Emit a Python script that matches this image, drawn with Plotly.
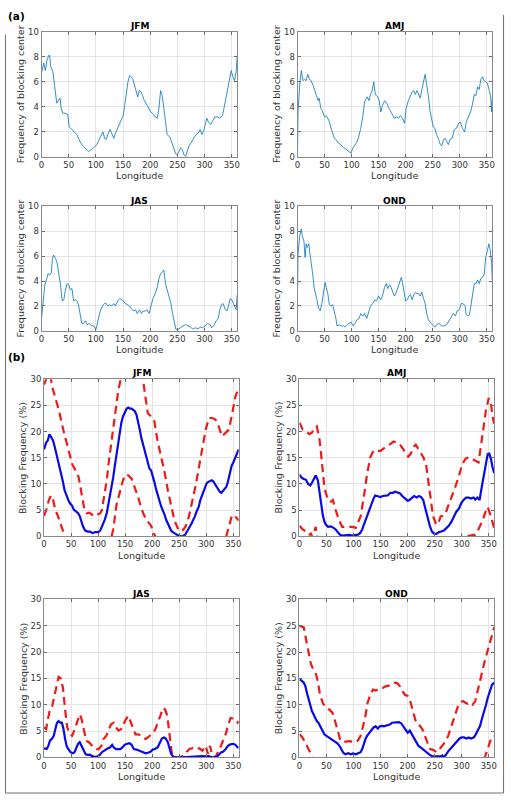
import plotly.graph_objects as go

W, H = 511, 800

# ---- (a) frequency of blocking center, (lon, value) ----
JFM_A = [(0, 6.7), (4, 7.5), (7, 6.9), (10, 7.7), (13, 8.1), (15, 8.1), (17, 7.2), (21, 6.8), (24, 5.7),
         (26, 4.9), (28, 4.3), (31, 4.5), (34, 4.7), (36, 3.9), (39, 3.5), (43, 3.5), (48, 3.4), (51, 2.4),
         (56, 2.2), (62, 1.9), (65, 1.8), (68, 1.5), (71, 1.2), (77, 0.85), (83, 0.6), (86, 0.45), (92, 0.6),
         (98, 0.85), (102, 1.0), (106, 1.4), (110, 1.8), (113, 2.0), (116, 1.5), (119, 1.4), (122, 1.8),
         (126, 2.2), (130, 1.8), (133, 1.5), (136, 1.9), (140, 2.3), (145, 2.7), (150, 3.3), (153, 4.1),
         (156, 5.2), (159, 6.0), (162, 6.5), (165, 6.4), (168, 6.2), (171, 5.7), (174, 5.3), (177, 4.8),
         (180, 5.3), (183, 5.2), (186, 4.9), (189, 4.5), (192, 4.3), (197, 3.9), (201, 3.6), (204, 3.5),
         (209, 3.2), (213, 3.1), (216, 3.9), (219, 5.3), (222, 4.9), (225, 3.9), (228, 2.6), (231, 1.8),
         (236, 1.6), (239, 1.2), (244, 0.6), (247, 0.25), (250, 0.2), (253, 0.45), (256, 0.75), (259, 0.6),
         (262, 0.2), (265, 0.05), (268, 0.45), (271, 0.85), (276, 1.2), (280, 1.5), (284, 1.8), (288, 1.9),
         (292, 2.2), (295, 1.8), (299, 2.2), (304, 3.1), (307, 2.8), (311, 2.6), (315, 2.9), (319, 3.2),
         (324, 3.2), (328, 3.1), (333, 3.3), (336, 4.0), (339, 4.7), (343, 5.6), (346, 6.4), (349, 6.9),
         (352, 6.4), (355, 6.1), (358, 6.8), (360, 8.1)]

AMJ_A = [(0, 0.2), (1, 3.6), (4, 5.7), (7, 6.9), (10, 6.1), (13, 6.2), (16, 6.1), (19, 6.6), (22, 6.2),
         (25, 6.1), (29, 5.7), (32, 5.2), (35, 4.9), (38, 4.5), (40, 4.7), (43, 3.9), (46, 3.7), (50, 3.2),
         (53, 3.3), (56, 3.1), (59, 2.8), (62, 2.3), (65, 1.8), (68, 1.5), (71, 1.4), (76, 1.1), (80, 1.0),
         (85, 0.75), (89, 0.65), (93, 0.5), (96, 0.4), (99, 0.3), (102, 0.7), (106, 1.0), (110, 1.2),
         (113, 1.6), (117, 2.3), (121, 3.3), (124, 4.4), (129, 4.8), (132, 4.5), (135, 5.0), (138, 5.3),
         (141, 6.0), (144, 5.0), (148, 4.8), (151, 4.5), (154, 3.6), (157, 4.1), (161, 4.5), (165, 4.3),
         (168, 4.0), (172, 3.7), (176, 3.3), (179, 3.1), (183, 3.2), (187, 3.1), (190, 3.3), (194, 3.1),
         (198, 2.7), (201, 3.9), (205, 4.5), (209, 4.9), (212, 5.2), (215, 5.3), (218, 5.0), (221, 5.3),
         (224, 5.0), (227, 4.7), (230, 5.4), (233, 6.0), (236, 6.6), (239, 5.7), (242, 4.9), (245, 3.7),
         (248, 3.1), (251, 2.4), (254, 2.3), (257, 1.8), (261, 1.4), (264, 1.0), (267, 0.9), (270, 1.4),
         (273, 1.5), (276, 1.2), (279, 1.0), (282, 1.4), (286, 1.5), (290, 2.2), (294, 2.3), (298, 2.7),
         (301, 2.8), (305, 2.3), (309, 2.0), (312, 2.8), (316, 3.2), (320, 3.6), (323, 4.1), (327, 5.0),
         (330, 4.9), (333, 5.6), (336, 5.4), (339, 6.2), (342, 6.4), (345, 6.1), (348, 6.0), (351, 5.9),
         (354, 5.4), (357, 4.9), (359, 3.6), (360, 4.7)]

JAS_A = [(0, 1.0), (3, 2.2), (6, 3.7), (9, 4.1), (12, 4.6), (15, 4.5), (18, 4.7), (20, 5.8), (22, 6.1),
         (26, 5.8), (29, 5.4), (32, 4.5), (35, 3.7), (38, 2.4), (41, 2.5), (44, 3.3), (47, 3.8), (50, 3.7),
         (53, 3.3), (56, 3.4), (59, 2.4), (62, 2.5), (65, 2.4), (68, 2.1), (71, 1.3), (74, 0.6), (77, 0.6),
         (81, 0.8), (84, 0.5), (88, 0.6), (92, 0.4), (96, 0.4), (100, 0.1), (104, 1.0), (108, 1.6),
         (112, 2.0), (116, 2.2), (119, 2.2), (122, 2.0), (125, 2.1), (129, 2.0), (133, 2.2), (136, 2.0),
         (140, 2.4), (144, 2.6), (147, 2.5), (151, 2.4), (154, 2.2), (158, 2.1), (162, 2.0), (165, 1.8),
         (169, 1.6), (173, 1.7), (176, 1.4), (180, 1.7), (184, 1.4), (187, 1.6), (191, 1.6), (194, 1.7),
         (198, 1.4), (202, 2.1), (205, 2.6), (209, 3.0), (213, 3.5), (216, 4.2), (219, 4.6), (222, 4.7),
         (225, 4.9), (228, 3.8), (231, 3.3), (234, 2.8), (238, 2.2), (241, 1.4), (244, 0.6), (247, 0.15),
         (251, 0.1), (256, 0.3), (260, 0.4), (265, 0.5), (270, 0.4), (274, 0.3), (278, 0.15), (283, 0.25),
         (288, 0.15), (292, 0.3), (296, 0.25), (301, 0.4), (305, 0.6), (310, 0.5), (313, 0.25), (318, 0.5),
         (321, 0.8), (325, 1.0), (328, 1.7), (331, 2.1), (334, 2.2), (338, 1.7), (341, 1.6), (344, 2.0),
         (347, 2.6), (350, 2.5), (353, 2.2), (356, 1.8), (358, 1.7), (360, 2.9)]

OND_A = [(0, 3.0), (1, 6.2), (4, 7.6), (7, 8.2), (9, 7.6), (12, 7.2), (14, 5.9), (16, 7.0), (18, 6.7),
         (21, 7.0), (23, 6.2), (26, 4.9), (28, 4.6), (31, 3.4), (33, 2.9), (36, 2.5), (39, 1.8), (42, 1.6),
         (45, 2.2), (48, 3.3), (51, 3.9), (53, 3.5), (56, 3.0), (59, 2.1), (62, 2.0), (65, 2.1), (68, 1.6),
         (71, 1.0), (73, 0.4), (77, 0.5), (81, 0.4), (85, 0.4), (88, 0.3), (92, 0.5), (95, 0.6), (99, 0.7),
         (103, 0.4), (106, 0.6), (110, 0.9), (114, 1.0), (117, 1.4), (121, 1.2), (124, 1.4), (128, 1.0),
         (132, 1.6), (135, 2.0), (139, 2.2), (143, 2.5), (146, 2.4), (150, 2.8), (154, 2.5), (157, 2.8),
         (161, 3.5), (164, 3.8), (167, 3.4), (170, 3.7), (173, 3.5), (176, 3.1), (179, 2.8), (182, 3.0),
         (185, 3.4), (189, 3.8), (192, 4.3), (194, 3.9), (196, 3.3), (200, 2.4), (203, 2.5), (206, 2.8),
         (209, 2.9), (212, 2.5), (215, 2.9), (218, 3.1), (221, 3.0), (224, 3.0), (227, 2.8), (230, 3.1),
         (233, 2.6), (236, 2.2), (239, 1.4), (242, 0.9), (245, 0.7), (250, 0.5), (254, 0.3), (257, 0.5),
         (262, 0.6), (266, 0.4), (271, 0.4), (276, 0.5), (281, 0.9), (284, 1.2), (288, 1.4), (292, 1.2),
         (295, 1.6), (299, 1.7), (303, 2.2), (306, 2.2), (310, 2.0), (312, 1.3), (315, 1.2), (318, 1.3),
         (322, 2.5), (324, 3.3), (327, 3.8), (330, 3.8), (333, 4.1), (336, 3.8), (339, 4.2), (342, 4.3),
         (345, 4.5), (348, 5.9), (351, 6.5), (354, 7.0), (356, 6.6), (359, 5.5), (360, 4.1)]

# ---- (b) blocking frequency (%): mean (blue) and bounds (red dashed) ----
# values outside 0..30 are estimates of the clipped parts
JFM_MEAN = [(0, 16.6), (4, 17.9), (7, 18.3), (10, 19.5), (13, 19.0), (17, 18.2), (20, 17.0), (23, 15.7),
            (26, 14.8), (29, 13.5), (32, 11.9), (35, 10.4), (38, 8.8), (42, 7.5), (45, 6.9), (48, 6.3),
            (52, 5.8), (55, 5.1), (59, 4.7), (63, 4.4), (66, 3.9), (69, 2.8), (72, 1.9), (76, 1.1), (81, 0.9),
            (85, 0.9), (90, 0.6), (95, 0.8), (100, 0.8), (104, 1.1), (108, 2.0), (112, 3.1), (116, 4.4),
            (119, 6.0), (122, 7.8), (125, 9.4), (128, 11.3), (131, 13.5), (134, 15.7), (137, 18.2),
            (140, 20.1), (143, 21.7), (146, 22.9), (150, 23.9), (153, 24.4), (156, 24.6), (159, 24.4),
            (162, 24.4), (165, 24.2), (168, 23.9), (171, 23.2), (174, 22.0), (177, 20.4), (180, 18.8),
            (183, 17.6), (186, 16.3), (189, 15.1), (192, 13.8), (195, 12.9), (198, 12.6), (201, 11.6),
            (204, 10.4), (207, 9.1), (210, 7.8), (214, 6.6), (217, 5.6), (220, 5.0), (223, 4.1), (226, 3.1),
            (229, 2.4), (232, 1.6), (235, 1.1), (238, 0.8), (241, 0.6), (245, 0.4), (249, 0.1), (253, 0.0),
            (257, 0.05), (261, 0.3), (264, 0.75), (267, 1.3), (270, 1.9), (273, 2.5), (276, 3.1), (279, 3.8),
            (282, 4.7), (286, 5.6), (289, 6.9), (292, 7.8), (295, 8.5), (298, 9.4), (301, 10.2), (304, 10.4),
            (307, 10.5), (310, 10.7), (313, 10.5), (316, 10.0), (319, 9.4), (322, 9.1), (325, 8.5),
            (328, 8.3), (331, 8.6), (334, 8.9), (337, 9.4), (340, 10.4), (343, 11.9), (347, 13.5),
            (350, 14.1), (353, 14.8), (356, 15.4), (359, 16.4), (360, 16.6)]
JFM_UPPER = [(0, 29.0), (4, 30.2), (8, 31.0), (12, 30.5), (15, 28.6), (21, 26.4), (28, 23.9), (34, 21.0),
             (40, 18.5), (46, 16.0), (52, 13.8), (58, 12.6), (64, 11.3), (70, 7.8), (75, 5.0), (79, 4.4),
             (84, 4.5), (89, 4.1), (93, 4.4), (98, 4.1), (104, 4.4), (107, 5.0), (110, 6.9), (116, 10.7),
             (120, 14.4), (125, 18.2), (131, 23.2), (137, 27.6), (142, 30.1), (146, 32.5), (150, 35.0),
             (155, 37.0), (160, 36.5), (165, 35.5), (170, 34.0), (175, 32.5), (180, 31.0), (183, 30.0),
             (187, 27.0), (192, 23.5), (198, 22.9), (204, 22.0), (210, 18.2), (217, 15.1), (223, 12.2),
             (229, 8.8), (235, 5.6), (241, 3.1), (247, 1.6), (253, 0.9), (258, 1.3), (262, 1.9), (268, 3.8),
             (275, 6.9), (281, 10.0), (287, 13.5), (293, 17.0), (299, 20.4), (305, 22.6), (311, 22.6),
             (317, 22.3), (323, 21.0), (329, 19.1), (336, 19.8), (342, 20.4), (348, 23.5), (354, 26.7),
             (359, 28.2), (360, 28.5)]
JFM_LOWER = [(0, 3.9), (4, 5.0), (9, 6.9), (13, 7.8), (17, 6.9), (21, 5.0), (26, 3.8), (31, 2.2), (35, 0.6),
             (38, -0.3), (45, -2.0), (60, -3.5), (80, -3.0), (100, -3.0), (115, -1.5), (125, 0.0),
             (128, 1.3), (134, 6.0), (140, 8.2), (146, 10.7), (151, 11.8), (156, 11.6), (162, 11.0),
             (168, 9.4), (174, 7.5), (180, 5.3), (186, 3.8), (192, 2.8), (198, 2.0), (203, 0.6), (207, -0.3),
             (220, -2.5), (250, -1.0), (280, -1.5), (300, -2.0), (320, -2.5), (337, 0.0), (342, 1.9),
             (347, 3.8), (351, 4.1), (356, 3.5), (359, 3.1), (360, 3.0)]

AMJ_MEAN = [(0, 11.8), (3, 11.3), (7, 11.0), (12, 10.8), (16, 10.0), (20, 9.7), (24, 10.4), (27, 11.0),
            (30, 11.6), (34, 10.7), (37, 8.2), (40, 5.6), (43, 4.1), (46, 2.8), (49, 2.2), (53, 1.8), (58, 1.9),
            (63, 1.6), (67, 1.3), (71, 0.75), (75, 0.3), (79, 0.15), (85, 0.25), (92, 0.25), (98, 0.15),
            (104, 0.25), (108, 0.3), (112, 0.6), (116, 1.3), (119, 2.2), (122, 3.1), (125, 3.8), (128, 4.7),
            (131, 5.6), (134, 6.6), (137, 7.2), (140, 7.8), (145, 7.7), (150, 7.5), (154, 7.7), (159, 7.7),
            (163, 7.8), (168, 8.3), (173, 8.3), (177, 8.5), (181, 8.3), (186, 8.2), (190, 7.7), (195, 7.2),
            (200, 6.8), (203, 6.9), (207, 7.2), (212, 7.7), (217, 7.4), (221, 7.7), (225, 7.5), (229, 6.9),
            (232, 5.6), (235, 4.4), (238, 3.1), (241, 2.0), (245, 0.9), (249, 0.5), (253, 0.45), (257, 0.75),
            (262, 0.9), (267, 1.1), (272, 1.6), (276, 2.0), (281, 2.8), (285, 3.8), (290, 4.7), (295, 5.3),
            (299, 6.3), (303, 6.9), (308, 7.4), (313, 7.4), (317, 7.2), (322, 7.4), (325, 7.0), (329, 7.4),
            (333, 6.9), (336, 8.8), (339, 10.4), (342, 12.2), (345, 13.8), (348, 15.7), (351, 15.8),
            (354, 14.8), (357, 13.2), (360, 12.1)]
AMJ_UPPER = [(0, 21.7), (6, 20.4), (12, 20.1), (18, 19.5), (23, 19.8), (28, 20.7), (32, 21.0), (37, 18.5),
             (40, 15.7), (43, 11.9), (46, 9.4), (49, 8.2), (53, 6.9), (58, 6.6), (62, 6.9), (67, 5.0), (73, 3.1),
             (79, 1.8), (85, 1.8), (92, 1.9), (98, 1.8), (104, 1.6), (108, 2.5), (113, 3.8), (119, 7.5),
             (125, 11.9), (131, 15.1), (137, 16.4), (143, 16.3), (150, 16.3), (156, 16.8), (162, 17.3),
             (168, 17.6), (174, 18.1), (180, 17.9), (186, 17.5), (192, 16.6), (197, 15.7), (201, 15.2),
             (206, 15.8), (210, 17.0), (215, 17.5), (220, 16.6), (224, 16.0), (229, 15.1), (234, 13.8),
             (238, 10.7), (242, 7.5), (247, 3.8), (252, 2.5), (256, 2.2), (261, 3.8), (265, 3.9), (270, 4.4),
             (276, 6.0), (282, 7.5), (289, 9.7), (295, 11.6), (301, 13.8), (307, 14.8), (313, 15.1),
             (319, 14.8), (325, 14.4), (331, 14.1), (336, 17.6), (340, 20.7), (345, 24.2), (350, 26.4),
             (354, 25.4), (357, 22.9), (360, 21.5)]
AMJ_LOWER = [(0, 2.0), (6, 1.3), (12, 0.9), (18, 0.3), (21, 0.5), (24, -0.2), (30, 1.8), (34, -0.3),
             (40, -4.5), (60, -3.0), (90, -1.4), (130, -3.5), (180, -1.3), (230, -1.0), (250, -1.5),
             (290, -0.3), (311, 0.0), (320, 0.1), (325, 0.3), (329, 0.9), (334, 1.9), (339, 3.1), (343, 4.4),
             (348, 5.6), (352, 4.4), (356, 2.8), (360, 1.6)]

JAS_MEAN = [(0, 1.75), (5, 1.6), (8, 2.2), (11, 3.2), (15, 3.6), (18, 4.1), (21, 5.4), (24, 6.6), (27, 6.9),
            (30, 6.6), (33, 6.6), (36, 5.4), (39, 3.5), (42, 2.1), (45, 1.6), (49, 1.0), (54, 0.8), (57, 1.1),
            (60, 1.9), (63, 2.6), (66, 2.9), (69, 2.2), (73, 1.3), (77, 0.6), (81, 0.5), (85, 0.55), (89, 0.25),
            (94, 0.06), (99, 0.2), (103, 0.5), (107, 1.0), (111, 1.3), (115, 1.5), (118, 1.75), (122, 1.9),
            (126, 2.4), (129, 1.9), (133, 1.6), (136, 1.6), (141, 1.6), (145, 1.9), (149, 2.4), (154, 2.6),
            (158, 2.7), (162, 2.4), (166, 1.6), (171, 1.5), (175, 1.3), (179, 1.1), (183, 1.0), (188, 0.8),
            (192, 0.9), (197, 1.1), (201, 1.5), (205, 1.6), (210, 1.9), (214, 2.9), (218, 3.6), (222, 3.8),
            (225, 3.6), (229, 2.9), (232, 1.6), (235, 0.7), (238, 0.25), (242, 0.06), (247, 0.0), (256, 0.05),
            (266, 0.2), (275, 0.25), (284, 0.2), (293, 0.25), (299, 0.2), (305, 0.25), (309, 0.06), (314, 0.0),
            (320, 0.2), (324, 0.7), (328, 1.0), (331, 1.1), (336, 1.6), (340, 2.2), (345, 2.5), (350, 2.6),
            (354, 2.4), (358, 1.9), (360, 1.9)]
JAS_UPPER = [(0, 5.7), (4, 5.4), (7, 7.2), (11, 9.1), (15, 9.7), (19, 11.6), (23, 13.5), (27, 15.3),
             (31, 15.0), (35, 13.2), (39, 9.1), (43, 5.7), (48, 4.4), (52, 4.1), (57, 5.4), (62, 7.2),
             (66, 8.2), (69, 7.5), (74, 4.7), (78, 3.2), (83, 2.9), (88, 2.4), (92, 1.9), (97, 1.6), (101, 1.6),
             (106, 2.2), (110, 3.5), (115, 4.1), (119, 5.1), (124, 6.3), (129, 6.6), (133, 5.7), (138, 5.1),
             (143, 5.4), (147, 6.3), (151, 7.2), (156, 7.9), (161, 6.6), (165, 5.4), (169, 4.4), (174, 4.4),
             (179, 4.2), (183, 3.8), (188, 3.5), (192, 3.8), (197, 4.2), (202, 4.7), (206, 5.4), (211, 6.6),
             (215, 7.9), (220, 9.4), (224, 9.1), (228, 7.9), (232, 4.1), (236, 1.0), (241, 0.06), (247, 0.0),
             (253, 0.1), (259, 0.4), (264, 1.1), (269, 1.6), (275, 1.75), (281, 1.5), (287, 1.75), (293, 1.3),
             (299, 2.2), (303, 0.7), (307, 2.2), (311, 0.4), (317, 0.06), (322, 1.0), (326, 1.9), (331, 3.2),
             (336, 4.4), (340, 6.0), (345, 7.5), (350, 7.4), (354, 7.1), (358, 6.6), (360, 6.9)]
JAS_LOWER = [(0, -2.2), (30, -1.8), (60, -3.2), (100, -1.2), (150, -2.5), (200, -1.7), (225, -1.9),
             (250, -0.5), (300, -1.5), (340, -1.6), (360, -3.1)]

OND_MEAN = [(0, 14.8), (4, 14.6), (8, 14.2), (11, 13.5), (14, 12.2), (17, 11.0), (20, 9.7), (23, 8.8),
            (26, 8.2), (29, 7.5), (32, 6.9), (35, 6.6), (38, 6.0), (42, 5.1), (46, 4.4), (50, 4.1), (54, 3.8),
            (58, 3.5), (62, 3.2), (67, 2.9), (70, 2.7), (74, 2.2), (78, 1.5), (81, 0.9), (85, 0.6), (90, 0.8),
            (95, 0.6), (99, 0.75), (104, 0.6), (109, 0.8), (113, 1.0), (116, 1.6), (119, 2.6), (122, 3.5),
            (125, 4.1), (129, 4.7), (133, 5.2), (137, 5.7), (141, 5.9), (145, 5.5), (148, 5.9), (152, 6.0),
            (156, 5.9), (160, 6.0), (164, 6.1), (168, 6.3), (171, 6.6), (176, 6.6), (180, 6.6), (184, 6.7),
            (188, 6.5), (192, 5.9), (196, 5.1), (200, 4.7), (204, 5.1), (208, 4.4), (212, 3.5), (215, 2.9),
            (220, 2.2), (224, 1.9), (229, 1.5), (234, 1.1), (238, 0.7), (242, 0.4), (247, 0.2), (252, 0.2),
            (257, 0.1), (261, 0.2), (264, 0.4), (267, 0.06), (270, 0.4), (273, 1.0), (276, 1.3), (280, 1.75),
            (284, 2.2), (288, 2.6), (292, 3.0), (296, 3.6), (300, 3.8), (304, 3.8), (309, 3.6), (313, 3.8),
            (317, 3.6), (322, 3.8), (325, 4.2), (329, 5.1), (334, 6.0), (337, 7.2), (341, 8.5), (345, 10.0),
            (348, 11.3), (352, 12.5), (356, 13.8), (359, 14.1), (360, 14.1)]
OND_UPPER = [(0, 25.0), (4, 24.8), (8, 24.7), (12, 22.5), (17, 20.0), (21, 17.8), (26, 16.6), (31, 15.7),
             (35, 13.8), (38, 11.9), (43, 10.4), (47, 9.7), (52, 9.4), (57, 8.8), (61, 8.5), (65, 7.2),
             (70, 5.1), (75, 3.5), (80, 2.9), (85, 3.0), (92, 3.1), (98, 3.0), (104, 2.9), (108, 3.2),
             (113, 4.1), (117, 5.7), (122, 7.9), (126, 10.4), (131, 11.9), (136, 12.9), (141, 12.7),
             (145, 12.9), (150, 13.2), (154, 13.2), (159, 13.5), (164, 13.6), (168, 13.8), (173, 14.1),
             (177, 14.2), (181, 14.1), (186, 13.5), (191, 12.5), (195, 11.9), (200, 11.7), (204, 11.0),
             (209, 9.1), (214, 7.2), (218, 6.3), (223, 6.0), (228, 5.2), (232, 4.1), (236, 2.6), (241, 1.6),
             (246, 1.5), (250, 1.3), (254, 1.0), (259, 1.6), (264, 2.2), (269, 2.9), (275, 4.1), (281, 6.0),
             (287, 7.9), (293, 9.7), (297, 10.4), (302, 10.7), (307, 10.4), (311, 10.2), (315, 10.4),
             (320, 10.0), (325, 10.7), (329, 12.5), (334, 14.7), (339, 16.6), (343, 18.5), (348, 20.3),
             (352, 21.9), (356, 23.5), (360, 24.7)]
OND_LOWER = [(0, 4.4), (4, 4.0), (9, 3.2), (13, 2.2), (18, 1.3), (21, 0.7), (24, -0.1), (50, -1.2),
             (90, -1.5), (120, -1.0), (180, -0.9), (250, -0.9), (300, -3.1), (330, -2.0), (342, -0.2),
             (345, 0.7), (350, 2.2), (354, 3.5), (358, 4.1), (360, 4.1)]

LON_TICKS = [0, 50, 100, 150, 200, 250, 300, 350]

# panel boxes in pixels: left, top, right, bottom
PANELS_A = [
    ("JFM", JFM_A, (39, 27, 237, 154)),
    ("AMJ", AMJ_A, (298, 27, 495, 154)),
    ("JAS", JAS_A, (39, 204, 237, 330)),
    ("OND", OND_A, (298, 204, 495, 330)),
]
PANELS_B = [
    ("JFM", JFM_MEAN, JFM_UPPER, JFM_LOWER, (41.5, 379, 238.5, 538)),
    ("AMJ", AMJ_MEAN, AMJ_UPPER, AMJ_LOWER, (300, 379, 497, 538)),
    ("JAS", JAS_MEAN, JAS_UPPER, JAS_LOWER, (41.5, 602, 238.5, 762)),
    ("OND", OND_MEAN, OND_UPPER, OND_LOWER, (300, 602, 497, 762)),
]

FONT = "DejaVu Sans"
TICK_COLOR = "#333333"


def fx(p):
    return p / W


def fy(p):
    return 1 - p / H


def xy(pairs):
    return [p[0] for p in pairs], [p[1] for p in pairs]


fig = go.Figure()
annotations = []


def setup_axes(n, box, yrange, ytick):
    l, t, r, b = box
    common = dict(
        showgrid=True, gridcolor="#e4e4e4", gridwidth=1, zeroline=False,
        showline=True, linecolor="#8a8a8a", linewidth=1, mirror="ticks",
        ticks="inside", ticklen=3, tickcolor="#6a6a6a",
        tickfont=dict(family=FONT, size=8.5, color=TICK_COLOR),
        fixedrange=True,
    )
    xname = "xaxis" if n == 1 else f"xaxis{n}"
    yname = "yaxis" if n == 1 else f"yaxis{n}"
    fig.update_layout(**{
        xname: dict(common, domain=[fx(l), fx(r)], range=[0, 360], tickvals=LON_TICKS,
                    anchor="y" if n == 1 else f"y{n}"),
        yname: dict(common, domain=[fy(b), fy(t)], range=yrange, dtick=ytick,
                    anchor="x" if n == 1 else f"x{n}"),
    })


def note(x, y, text, size, color, angle=0):
    annotations.append(dict(x=x, y=y, xref="paper", yref="paper", text=text, showarrow=False,
                            textangle=angle, xanchor="center", yanchor="middle",
                            font=dict(family=FONT, size=size, color=color)))


def labels(box, title, ytitle):
    l, t, r, b = box
    note(fx((l + r) / 2), fy(t - 6), f"<b>{title}</b>", 9, "black")
    note(fx((l + r) / 2), fy(b + 19), "Longitude", 9.5, TICK_COLOR)
    note(fx(l - 21), fy((t + b) / 2), ytitle, 9.5, TICK_COLOR, -90)


n = 0
for title, series, box in PANELS_A:
    n += 1
    xs, ys = xy(series)
    fig.add_trace(go.Scatter(x=xs, y=ys, mode="lines", line=dict(color="#0072BD", width=0.8),
                             xaxis="x" if n == 1 else f"x{n}", yaxis="y" if n == 1 else f"y{n}",
                             showlegend=False, hoverinfo="skip"))
    setup_axes(n, box, [0, 10], 2)
    labels(box, title, "Frequency of blocking center")

for title, mean, upper, lower, box in PANELS_B:
    n += 1
    ax = dict(xaxis=f"x{n}", yaxis=f"y{n}", showlegend=False, hoverinfo="skip", mode="lines")
    for bound in (upper, lower):
        xs, ys = xy(bound)
        fig.add_trace(go.Scatter(x=xs, y=ys, line=dict(color="#f01818", width=2.2, dash="8px,5px"), **ax))
    xs, ys = xy(mean)
    fig.add_trace(go.Scatter(x=xs, y=ys, line=dict(color="#0a0ae6", width=2.2), **ax))
    setup_axes(n, box, [0, 30], 5)
    labels(box, title, "Blocking Frequency (%)")

note(fx(14), fy(11), "<b>(a)</b>", 10.5, "black")
note(fx(14), fy(356), "<b>(b)</b>", 10.5, "black")

# thin frame around the figure
frame = dict(type="line", xref="paper", yref="paper", line=dict(color="#6e6e6e", width=1))
shapes = [
    dict(frame, x0=fx(2.5), x1=fx(2.5), y0=fy(30), y1=fy(798)),
    dict(frame, x0=fx(506.5), x1=fx(506.5), y0=fy(10), y1=fy(798)),
    dict(frame, x0=fx(2.5), x1=fx(506.5), y0=fy(798), y1=fy(798)),
]

fig.update_layout(
    width=W, height=H,
    margin=dict(l=0, r=0, t=0, b=0),
    paper_bgcolor="white", plot_bgcolor="white",
    annotations=annotations, shapes=shapes,
    font=dict(family=FONT),
)

# the page body keeps an 8px margin by default; drop it so the figure fills the window
fig.write_html("out.html", config={"displayModeBar": False},
               post_script="document.body.style.margin='0';document.body.style.overflow='hidden';")
